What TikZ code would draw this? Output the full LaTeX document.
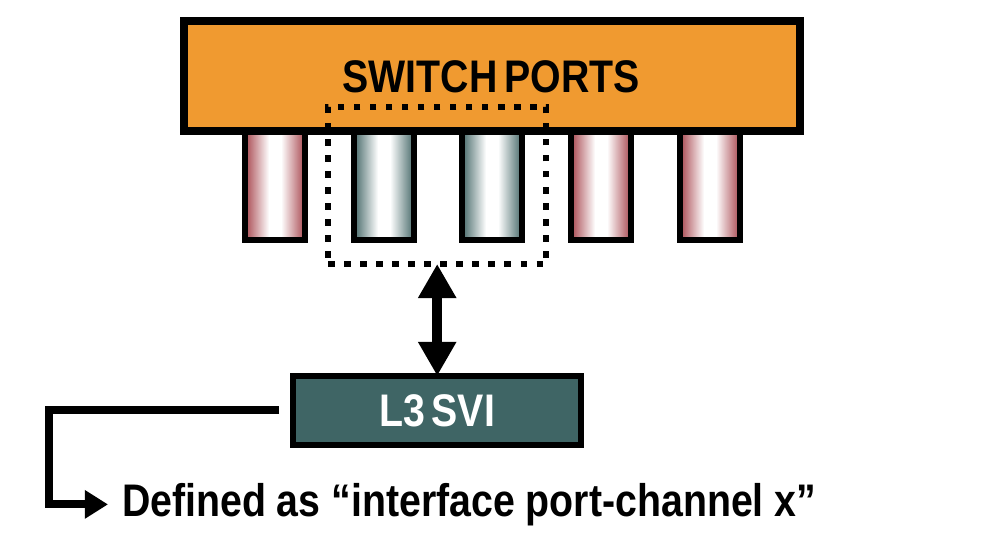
\documentclass[tikz,border=0pt]{standalone}
\usepackage{fontspec}
\setmainfont{Liberation Sans}[FakeStretch=0.86]
\usetikzlibrary{arrows.meta}
\definecolor{switchorange}{HTML}{F09A30}
\definecolor{sviteal}{HTML}{3F6565}
\definecolor{portred}{HTML}{A84850}
\definecolor{portteal}{HTML}{486A6A}
\pgfdeclarehorizontalshading{redport}{100bp}{color(0bp)=(portred); color(25bp)=(portred); color(45bp)=(white); color(55bp)=(white); color(75bp)=(portred); color(100bp)=(portred)}
\pgfdeclarehorizontalshading{tealport}{100bp}{color(0bp)=(portteal); color(25bp)=(portteal); color(45bp)=(white); color(55bp)=(white); color(75bp)=(portteal); color(100bp)=(portteal)}
\begin{document}
\begin{tikzpicture}[every node/.style={outer sep=0pt, inner sep=0pt}, line join=miter,
    redcell/.style={draw, line width=3.6pt, minimum width=1.5cm, minimum height=2.875cm, shading=redport},
    tealcell/.style={draw, line width=3.6pt, minimum width=1.5cm, minimum height=2.875cm, shading=tealport},
    bigarrow/.style={line width=7.4pt, {Triangle[length=0.85cm, width=0.9cm]}-{Triangle[length=0.85cm, width=0.9cm]}},
    elbowarrow/.style={line width=5.6pt, -{Triangle[length=0.58cm, width=0.68cm]}}]
        \useasboundingbox (0, 0) rectangle (24.9, -13.8);
        \node[redcell] (port1) at (6.875, -4.5625) {};
        \node[tealcell] (port2) at (9.6, -4.5625) {};
        \node[tealcell] (port3) at (12.3, -4.5625) {};
        \node[redcell] (port4) at (15.025, -4.5625) {};
        \node[redcell] (port5) at (17.75, -4.5625) {};
        \node[draw, line width=5pt, fill=switchorange, minimum width=15.4cm, minimum height=2.75cm] (ports) at (12.3, -1.9) {};
        \node[font=\bfseries\fontsize{32.5}{34}\selectfont] (portstext) at (12.28, -1.93) {SWITCH\hspace{-0.08em} PORTS};
        \node[draw, line width=4.6pt, dash pattern=on 4.6pt off 6.8pt, minimum width=5.45cm, minimum height=3.925cm] (group) at (10.93, -4.6375) {};
        \node[draw, line width=4.4pt, fill=sviteal, minimum width=7.2cm, minimum height=1.725cm, text=white, font=\bfseries\fontsize{32.5}{34}\selectfont] (svi) at (10.93, -10.26) {L3\hspace{-0.1em} SVI};
        \node[anchor=west, font=\bfseries\fontsize{32.5}{36}\selectfont] (note) at (3.05, -12.61) {Defined as “interface port-channel x”};
        \coordinate (elbow) at (1.22, -11);
        \draw[bigarrow] (group.south) -- (svi.north);
        \draw[elbowarrow, shorten <=0.35cm, shorten >=0.35cm] (svi.west) -| (elbow) |- (note.west);
    \end{tikzpicture}
\end{document}
